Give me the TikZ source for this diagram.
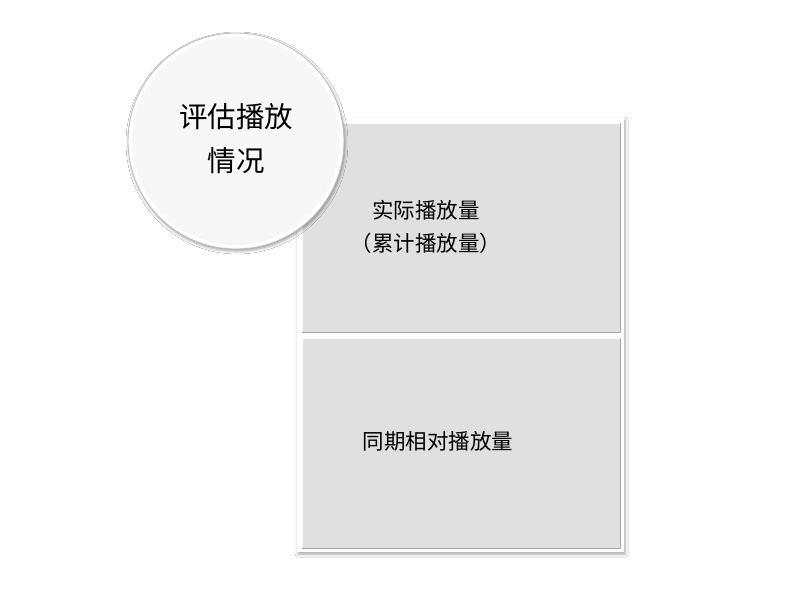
\documentclass[tikz,border=0pt]{standalone}
\usepackage{fontspec}
\setmainfont{Noto Sans CJK SC}
\usetikzlibrary{shadows.blur}
\definecolor{boxfill}{RGB}{224,224,224}
\definecolor{circfill}{RGB}{247,247,247}
\definecolor{rimgray}{RGB}{190,190,190}
\definecolor{darkedge}{RGB}{170,170,170}
\tikzset{
  frame/.style={fill=white, draw=none, blur shadow={shadow xshift=1pt, shadow yshift=-2pt, shadow blur radius=3pt, shadow opacity=35}},
  panel/.style={fill=boxfill, draw=none},
  hl/.style={white, line width=1.6pt},
  sh/.style={darkedge, line width=1.6pt},
  lbl/.style={font=\fontsize{21.5}{33}\selectfont, align=center, text=black},
  circlbl/.style={font=\fontsize{28.5}{44}\selectfont, align=center, text=black}
}
\begin{document}
\begin{tikzpicture}[x=1pt,y=-1pt]
\useasboundingbox (0,0) rectangle (811,604);
\fill[white] (0,0) rectangle (811,604);
% outer frame
\node[frame, minimum width=327pt, minimum height=434pt, inner sep=0pt, anchor=north west] (frame) at (297,118) {};
% top panel
\node[panel, minimum width=318pt, minimum height=209pt, inner sep=0pt, anchor=north west] (top) at (302,123) {};
\draw[hl] (top.south west) -- (top.north west) -- (top.north east);
\draw[sh] (top.north east) -- (top.south east) -- (top.south west);
% bottom panel
\node[panel, minimum width=318pt, minimum height=210pt, inner sep=0pt, anchor=north west] (bot) at (302,338) {};
\draw[hl] (bot.south west) -- (bot.north west) -- (bot.north east);
\draw[sh] (bot.north east) -- (bot.south east) -- (bot.south west);
% labels
\node[lbl] (t1) at (426,227) {实际播放量\\（累计播放量）};
\node[lbl] (t2) at (438,441) {同期相对播放量};
% circle
\node[circle, minimum size=216pt, inner sep=0pt, fill=circfill, draw=rimgray, line width=0.8pt,
  blur shadow={shadow xshift=1pt, shadow yshift=-2pt, shadow blur radius=3pt, shadow opacity=40}] (circ) at (236,141) {};
\draw[white, line width=3pt] (circ.center) circle (105.5pt);
\node[circlbl] (ct) at (236,139) {评估播放\\情况};
\end{tikzpicture}
\end{document}
